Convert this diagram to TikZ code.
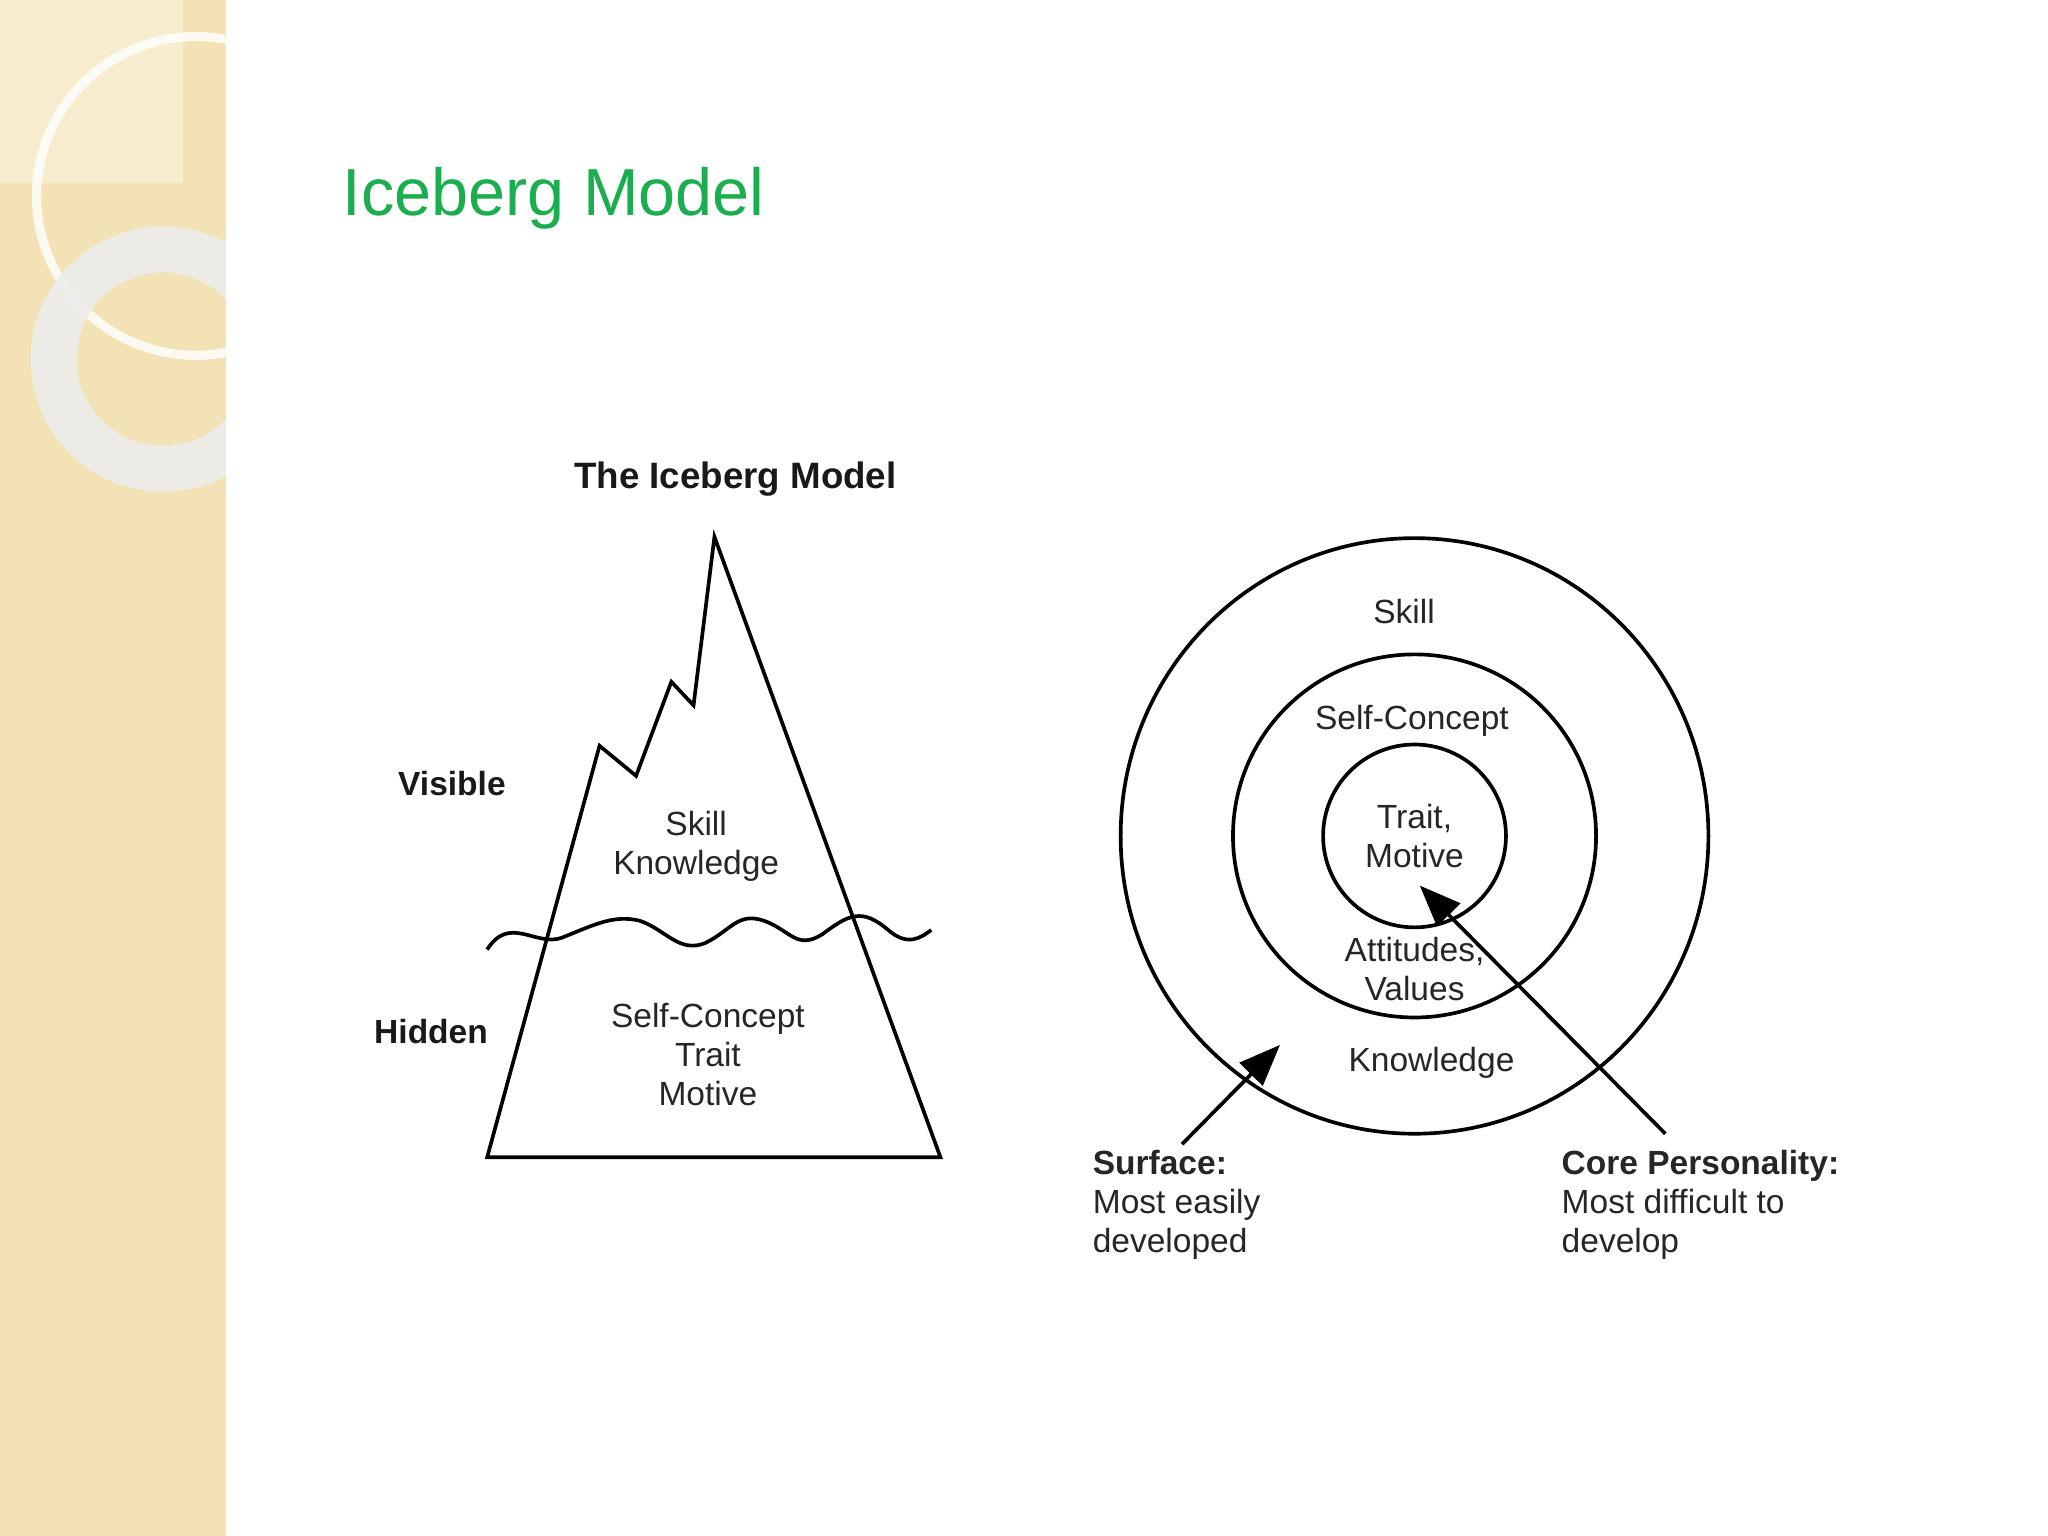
\documentclass[tikz,border=0pt]{standalone}
\usepackage{fontspec}
\setmainfont{Liberation Sans}
\usetikzlibrary{arrows.meta}
\definecolor{beige}{HTML}{F3E2B5}
\definecolor{ttl}{HTML}{1AAE4E}
\tikzset{lbl/.style={font=\fontsize{7.3}{8.5}\selectfont,align=center,text=black!85},
bl/.style={font=\bfseries\fontsize{7.3}{8.5}\selectfont,text=black!90},
ln/.style={line width=0.8pt},
arr/.style={ln,-{Triangle[length=9pt,width=7pt]}}}
\begin{document}
\begin{tikzpicture}[x=0.1mm,y=-0.1mm]
\useasboundingbox (0,0) rectangle (1568,1176);
\fill[white] (0,0) rectangle (1568,1176);
\fill[beige] (0,0) rectangle (173,1176);
\fill[white,opacity=0.35] (0,0) rectangle (140,140);
\begin{scope}
\clip (0,0) rectangle (173,1176);
\draw[white,opacity=0.8,line width=2pt] (150,150) circle (122);
\draw[white!85!gray,opacity=0.9,line width=10pt] (125,275) circle (84);
\end{scope}
\node[anchor=west,text=ttl,font=\fontsize{14.5}{17}\selectfont] (title) at (250,152) {Iceberg Model};
% iceberg
\node[bl,font=\bfseries\fontsize{8}{10}\selectfont] (t) at (563,367) {The Iceberg Model};
\coordinate (b1) at (373,886); \coordinate (b2) at (720,886);
\draw[ln,line join=miter] (b1) -- (459,571) -- (487,594) -- (514,522) -- (531,540) -- (547,411) -- (b2) -- cycle;
\draw[ln] (373,727) .. controls (390,700) and (410,725) .. (430,718)
  .. controls (455,708) and (470,700) .. (490,705)
  .. controls (510,712) and (520,730) .. (540,722)
  .. controls (560,712) and (565,698) .. (585,705)
  .. controls (605,712) and (610,728) .. (630,715)
  .. controls (650,700) and (660,695) .. (680,712)
  .. controls (695,725) and (705,718) .. (713,712);
\node[bl] (vis) at (346,600) {Visible};
\node[bl] (hid) at (330,790) {Hidden};
\node[lbl] (sk) at (533,648) {Skill\\Knowledge};
\node[lbl] (sc) at (542,807) {Self-Concept\\Trait\\Motive};
% circles
\coordinate (c) at (1083,640);
\draw[ln] (c) ellipse (225 and 228);
\draw[ln] (c) circle (139);
\draw[ln] (c) circle (70);
\node[lbl] (s1) at (1075,468) {Skill};
\node[lbl] (s2) at (1081,552) {Self-Concept};
\node[lbl] (s3) at (1083,640) {Trait,\\Motive};
\node[lbl] (s4) at (1083,742) {Attitudes,\\Values};
\node[lbl] (s5) at (1096,814) {Knowledge};
\node[lbl,anchor=north west,align=left,inner sep=0pt] (surf) at (836,880) {\textbf{Surface:}\\Most easily\\developed};
\node[lbl,anchor=north west,align=left,inner sep=0pt] (core) at (1195,880) {\textbf{Core Personality:}\\Most difficult to\\develop};
\coordinate (a1) at (905,876); \coordinate (a1e) at (980,800);
\coordinate (a2) at (1275,868); \coordinate (a2e) at (1087,678);
\draw[arr] (a1) -- (a1e);
\draw[arr] (a2) -- (a2e);
\end{tikzpicture}
\end{document}
